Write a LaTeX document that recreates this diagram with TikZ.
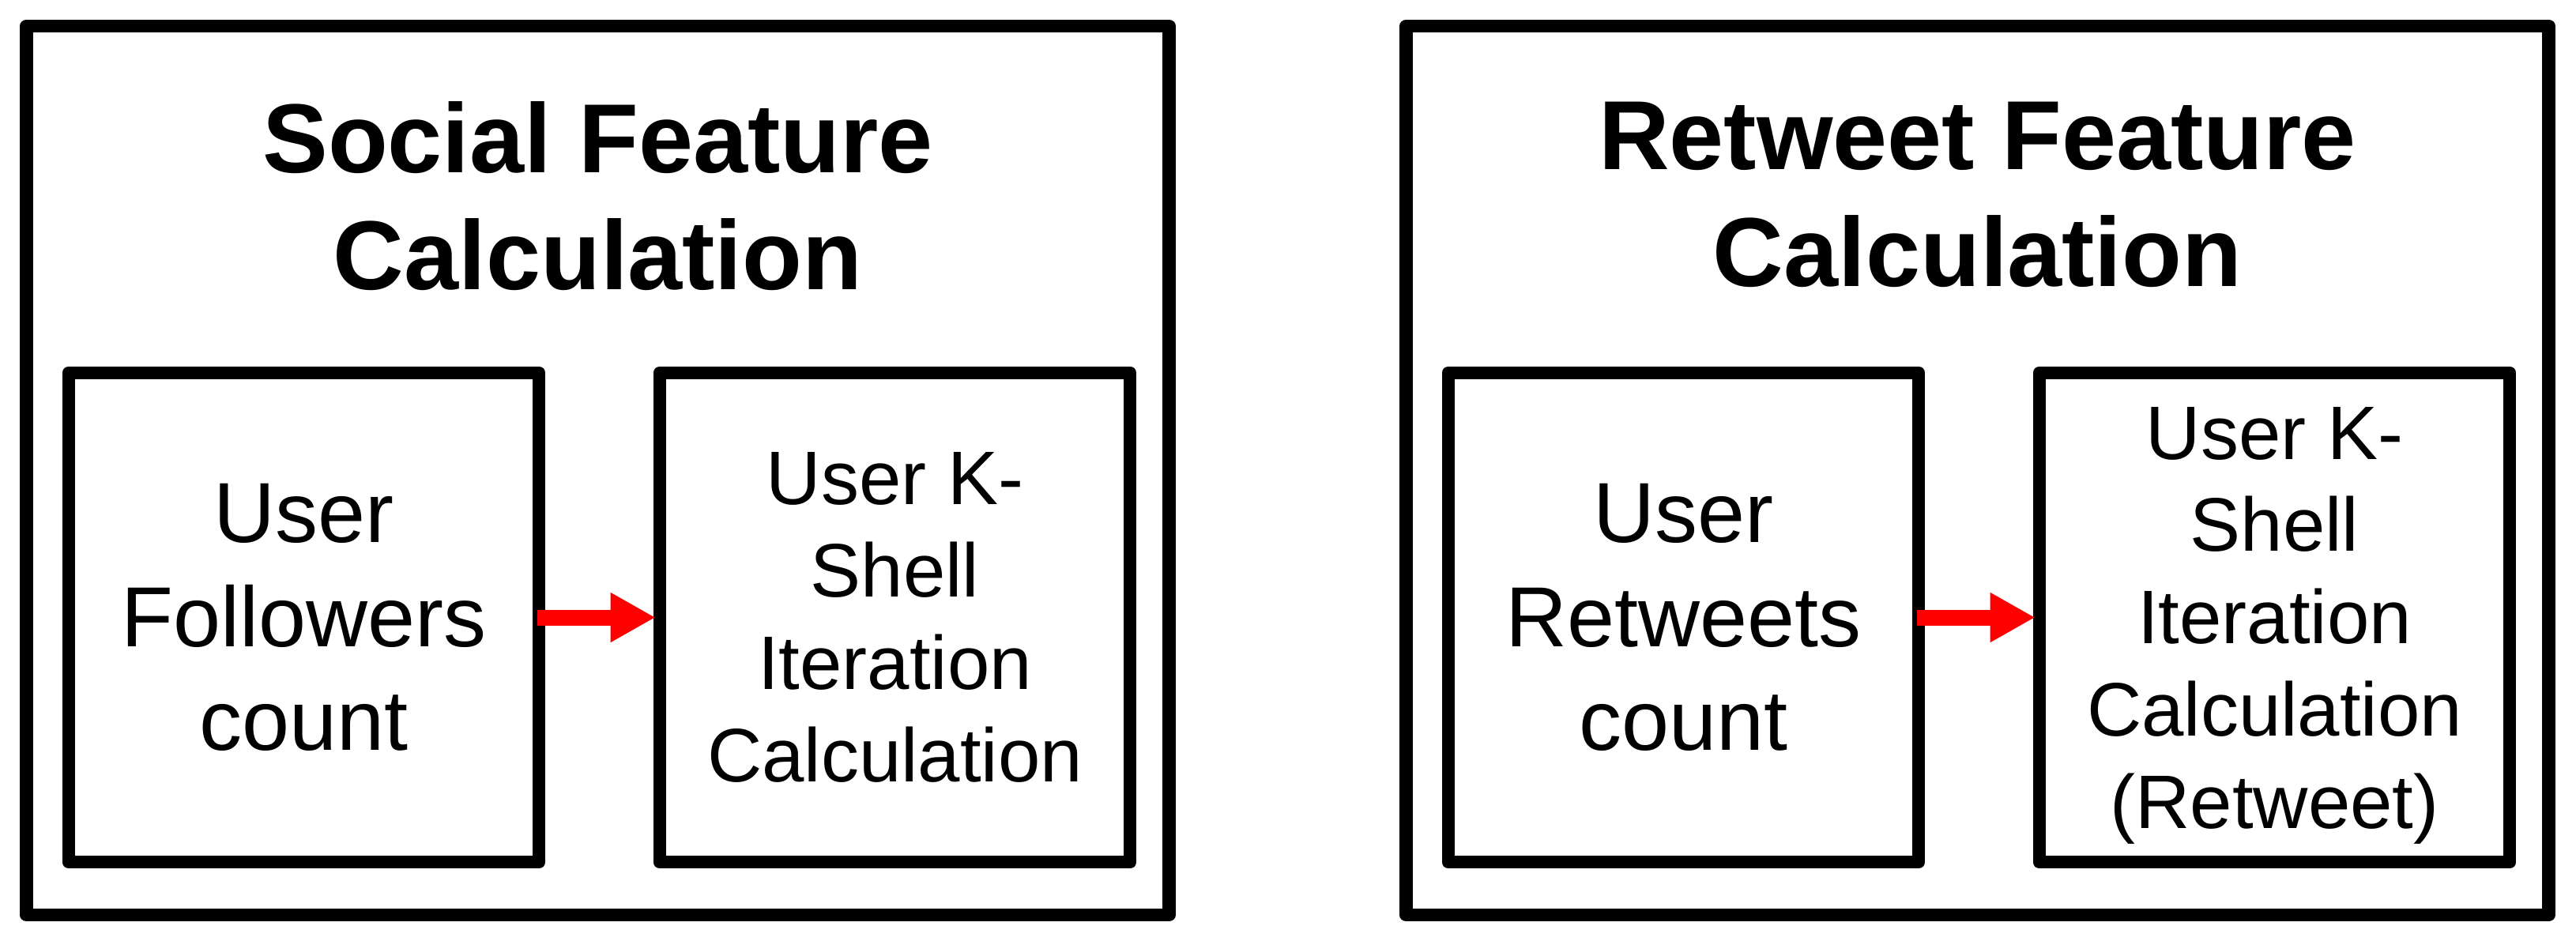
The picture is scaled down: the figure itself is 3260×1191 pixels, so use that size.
\documentclass[tikz,border=0pt]{standalone}
\usepackage{fontspec}
\setmainfont{Liberation Sans}
\usetikzlibrary{arrows.meta}
\tikzset{
  panel/.style={draw=black, line width=0.162cm, line join=round, inner sep=0pt,
    minimum width=14.45cm, minimum height=11.25cm},
  stepbox/.style={draw=black, line width=0.165cm, line join=round, inner sep=0pt,
    minimum width=5.95cm, minimum height=6.19cm, align=center},
  bigtext/.style={font=\fontsize{30.7}{37.3}\selectfont},
  smalltext/.style={font=\fontsize{27.3}{33.2}\selectfont},
  titletext/.style={font=\bfseries\fontsize{35.3}{42.1}\selectfont, align=center,
    inner sep=0pt, anchor=north},
  flow/.style={draw=red, line width=0.2cm,
    -{Triangle[length=0.57cm, width=0.59cm]}, red}
}
\begin{document}
\begin{tikzpicture}[x=0.01cm, y=-0.01cm]
\useasboundingbox[fill=white] (0,0) rectangle (3260,1191);
% left panel
\node[panel] (p1) at (756.5,595.5) {};
\node[titletext] (t1) at (756.5,128) {Social Feature\\Calculation};
\node[stepbox, bigtext] (b1) at (384.5,781.5) {User\\Followers\\count};
\node[stepbox, smalltext] (b2) at (1132.5,781.5) {User K-\\Shell\\Iteration\\Calculation};
\draw[flow] ([xshift=-0.1cm]b1.east) -- ([xshift=0.03cm]b2.west);
% right panel
\node[panel] (p2) at (2502.5,595.5) {};
\node[titletext] (t2) at (2502.5,128) {Retweet Feature\\Calculation};
\node[stepbox, bigtext] (b3) at (2130.5,781.5) {User\\Retweets\\count};
\node[stepbox, smalltext] (b4) at (2878.5,781.5) {User K-\\Shell\\Iteration\\Calculation\\\raisebox{0pt}[\height][0pt]{(Retweet)}};
\draw[flow] ([xshift=-0.1cm]b3.east) -- ([xshift=0.03cm]b4.west);
\end{tikzpicture}
\end{document}
